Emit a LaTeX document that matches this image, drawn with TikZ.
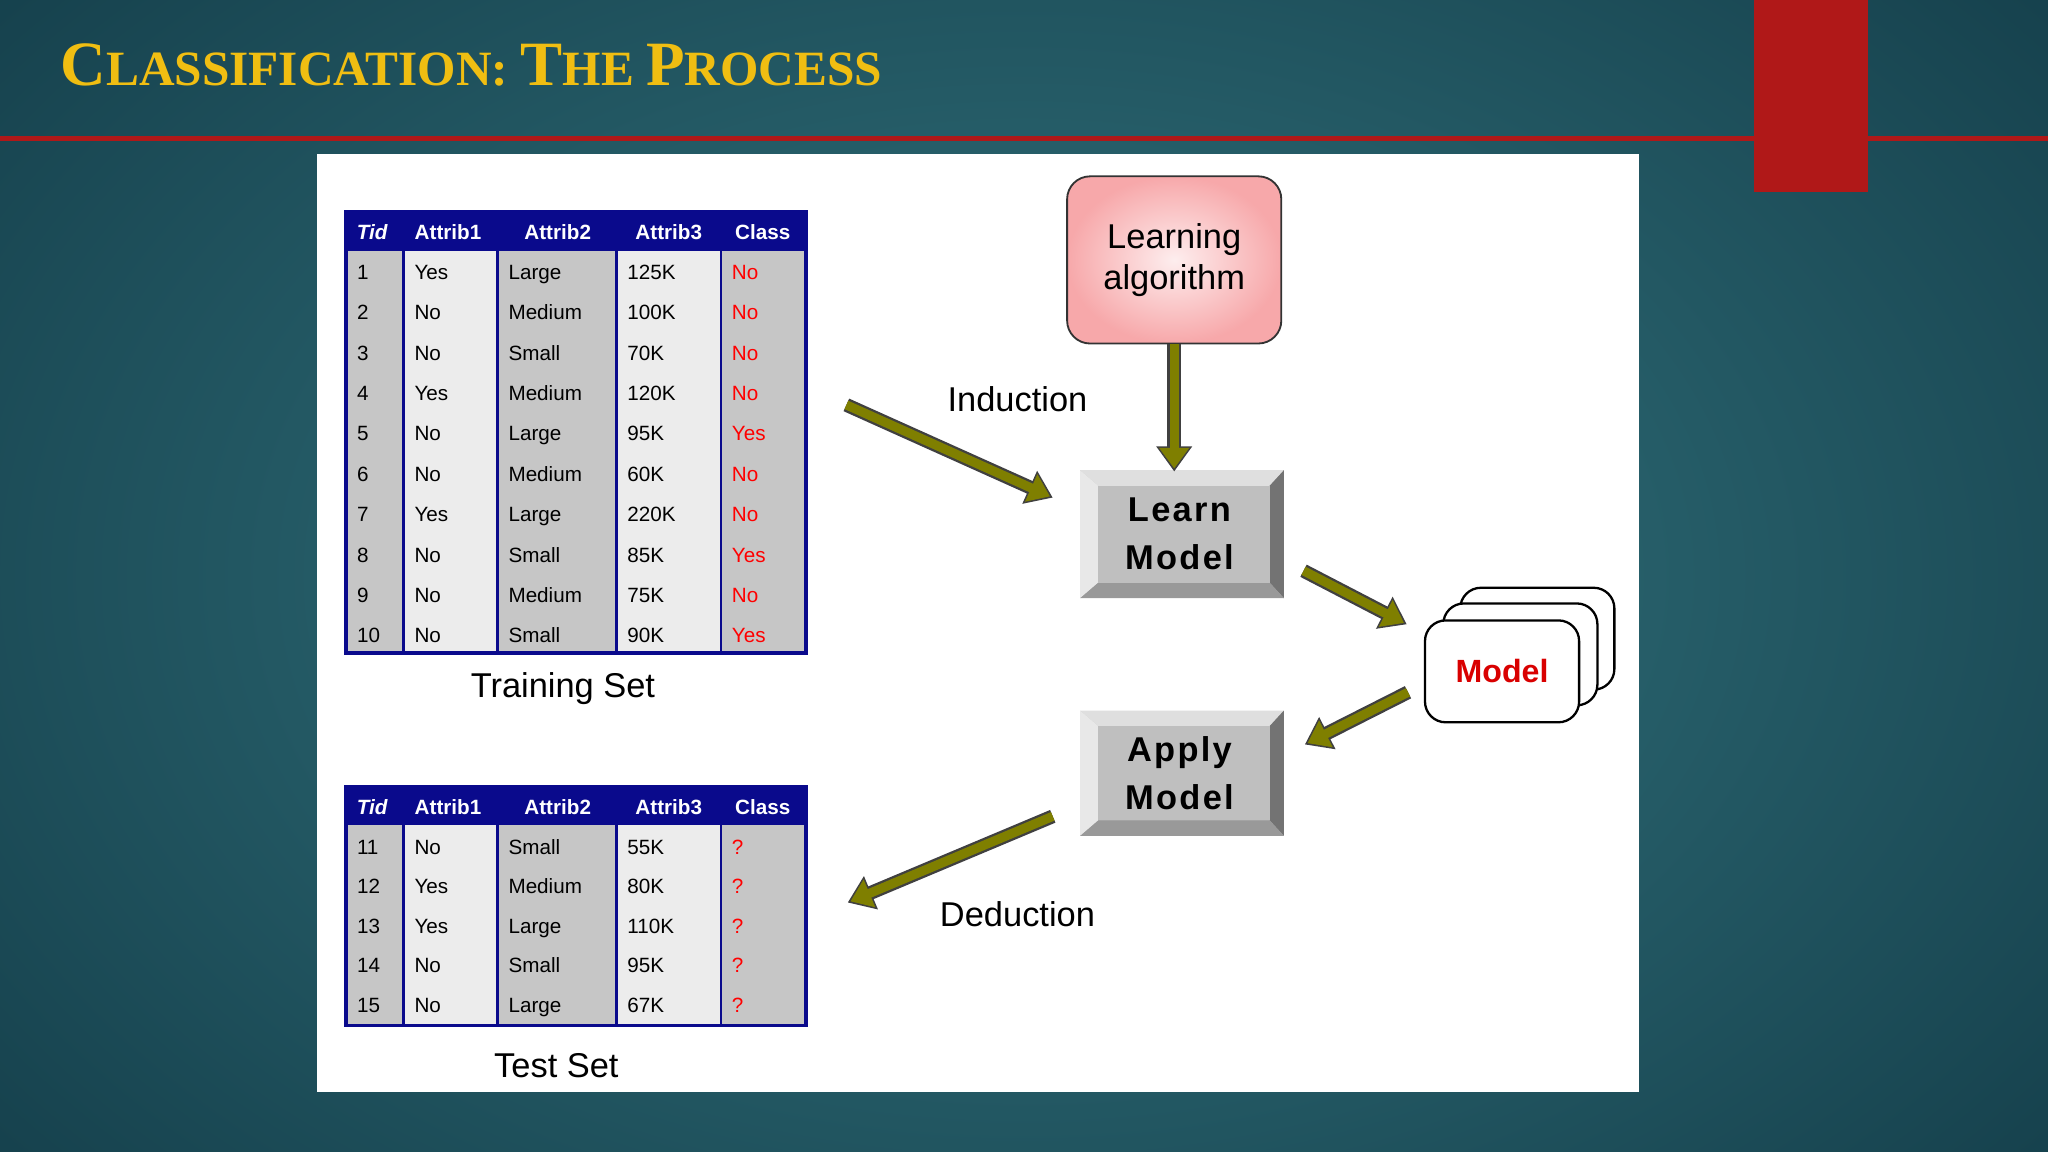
\documentclass[tikz,border=0pt]{standalone}
\usepackage{fontspec}
\setmainfont{Liberation Sans}
\newfontfamily\titlefont{Liberation Serif}
\usetikzlibrary{arrows.meta}
\definecolor{navy}{HTML}{0A0A8C}
\definecolor{gold}{HTML}{F0BE12}
\definecolor{olive}{HTML}{7F7F00}
\definecolor{redbar}{HTML}{B01818}
\definecolor{pinkbox}{HTML}{F7A8AA}
\tikzset{
  cell/.style={anchor=base west,inner sep=0pt,font=\fontsize{9}{10}\selectfont},
  hcell/.style={anchor=center,inner sep=0pt,text=white,font=\bfseries\fontsize{9}{10}\selectfont},
  captext/.style={font=\fontsize{15}{17}\selectfont,inner sep=0pt},
  fat/.style={line width=6pt,draw=black!75,-{Triangle[length=11pt,width=15pt]},shorten >=0pt,
     postaction={draw=olive,line width=4pt,-{Triangle[length=9pt,width=12.5pt]},shorten >=1.3pt}},
  bevtxt/.style={font=\bfseries\fontsize{15}{21}\selectfont,align=center,inner sep=0pt},
}
\newcommand{\bevel}[5]{% x1 y1 x2 y2 name
  \fill[gray!55] (#1,#2) rectangle (#3,#4);
  \fill[gray!25] (#1,#2) -- (#3,#2) -- (#3-11,#2+12) -- (#1+14,#2+12) -- cycle;
  \fill[gray!18] (#1,#2) -- (#1+14,#2+12) -- (#1+14,#4-12) -- (#1,#4) -- cycle;
  \fill[black!55] (#3,#2) -- (#3,#4) -- (#3-11,#4-12) -- (#3-11,#2+12) -- cycle;
  \fill[black!40] (#1,#4) -- (#3,#4) -- (#3-11,#4-12) -- (#1+14,#4-12) -- cycle;
  \fill[gray!50] (#1+14,#2+12) rectangle (#3-11,#4-12);
  \coordinate (#5) at ({(#1+#3)/2},{(#2+#4)/2});
}
\newcommand{\bigc}[1]{{\fontsize{27.5}{30}\selectfont #1}}
\begin{document}
\begin{tikzpicture}[x=0.02cm,y=-0.02cm]
\useasboundingbox (0,0) rectangle (1568,882);
\shade[inner color={rgb,255:red,52;green,118;blue,128},outer color={rgb,255:red,20;green,62;blue,74}] (-300,-300) rectangle (1868,1182);
\fill[redbar] (1343,0) rectangle (1430,147);
\draw[redbar,line width=2.5pt] (0,106) -- (1568,106);
\node[anchor=west,text=gold,inner sep=0pt] (title) at (46,50)
  {\titlefont\bfseries\fontsize{21.5}{24}\selectfont \bigc{C}LASSIFICATION: \bigc{T}HE \bigc{P}ROCESS};
\fill[white] (243,118) rectangle (1255,836);
\def\cols{265/309/gray!45,309/381/gray!15,381/472/gray!45,472/552/gray!15,552/617/gray!45}
\foreach \a/\b/\c in \cols {\fill[\c] (\a,192) rectangle (\b,500);}
\fill[navy] (265,162) rectangle (617,192);
\foreach \x in {309,381,472,552} \draw[navy,line width=1pt] (\x,192) -- (\x,500);
\draw[navy,line width=1.5pt] (265,162) rectangle (617,500);
\foreach \a/\b/\c in \cols {\fill[\c] (\a,632) rectangle (\b,785);}
\fill[navy] (265,602) rectangle (617,632);
\foreach \x in {309,381,472,552} \draw[navy,line width=1pt] (\x,632) -- (\x,785);
\draw[navy,line width=1.5pt] (265,602) rectangle (617,785);
\foreach \y/\t in {178/a,618/b}{
  \node[hcell] (h\t1) at (285,\y) {\itshape Tid};
  \node[hcell] (h\t2) at (343,\y) {Attrib1};
  \node[hcell] (h\t3) at (427,\y) {Attrib2};
  \node[hcell] (h\t4) at (512,\y) {Attrib3};
  \node[hcell] (h\t5) at (584,\y) {Class};
}
\foreach [count=\k] \a/\b/\c/\d/\e in {1/Yes/Large/125K/No,2/No/Medium/100K/No,3/No/Small/70K/No,4/Yes/Medium/120K/No,5/No/Large/95K/Yes,6/No/Medium/60K/No,7/Yes/Large/220K/No,8/No/Small/85K/Yes,9/No/Medium/75K/No,10/No/Small/90K/Yes}{
  \pgfmathsetmacro\yy{214+30.9*(\k-1)}
  \node[cell] (ra\k a) at (273,\yy) {\a};
  \node[cell] (ra\k b) at (317,\yy) {\b};
  \node[cell] (ra\k c) at (389,\yy) {\c};
  \node[cell] (ra\k d) at (480,\yy) {\d};
  \node[cell,text=red] (ra\k e) at (560,\yy) {\e};
}
\foreach [count=\k] \a/\b/\c/\d in {11/No/Small/55K,12/Yes/Medium/80K,13/Yes/Large/110K,14/No/Small/95K,15/No/Large/67K}{
  \pgfmathsetmacro\yy{654+30.25*(\k-1)}
  \node[cell] (rb\k a) at (273,\yy) {\a};
  \node[cell] (rb\k b) at (317,\yy) {\b};
  \node[cell] (rb\k c) at (389,\yy) {\c};
  \node[cell] (rb\k d) at (480,\yy) {\d};
  \node[cell,text=red] (rb\k e) at (560,\yy) {?};
}
\node[captext] (train) at (431,527) {Training Set};
\node[captext] (test) at (426,816) {Test Set};
\node[draw=black!80,line width=0.8pt,rounded corners=10pt,inner color=white!80!pinkbox,outer color=pinkbox,
  minimum width=164*0.02cm,minimum height=128*0.02cm,align=center,
  font=\fontsize{15}{18}\selectfont] (alg) at (899,199) {Learning\\algorithm};
\bevel{827}{360}{983}{458}{lm}
\node[bevtxt] (learn) at ([xshift=-0.04cm]lm) {L\kern1pt e\kern1pt a\kern1pt r\kern1pt n\\M\kern1pt o\kern1pt d\kern1pt e\kern1pt l};
\bevel{827}{544}{983}{640}{am}
\node[bevtxt] (apply) at ([xshift=-0.04cm]am) {A\kern1pt p\kern1pt p\kern1pt l\kern1pt y\\M\kern1pt o\kern1pt d\kern1pt e\kern1pt l};
\tikzset{card/.style={draw=black,line width=1pt,fill=white,rounded corners=9pt,minimum width=118*0.02cm,minimum height=78*0.02cm}}
\node[card] (c3) at (1177,489) {};
\node[card] (c2) at (1164,501) {};
\node[card,text=red!85!black,font=\bfseries\fontsize{14}{16}\selectfont] (model) at (1150,514) {Model};
\coordinate (i1) at (648,310); \coordinate (i2) at (806,381);
\coordinate (l1) at (998,437); \coordinate (l2) at (1077,478);
\coordinate (m1) at (1078,530); \coordinate (m2) at (999,570);
\coordinate (d1) at (806,625); \coordinate (d2) at (649,691);
\coordinate (algend) at (899,361);
\draw[fat] (alg.south) -- (algend);
\draw[fat] (i1) -- (i2);
\draw[fat] (l1) -- (l2);
\draw[fat] (m1) -- (m2);
\draw[fat] (d1) -- (d2);
\node[captext] (ind) at (779,306) {Induction};
\node[captext] (ded) at (779,700) {Deduction};
\end{tikzpicture}
\end{document}
